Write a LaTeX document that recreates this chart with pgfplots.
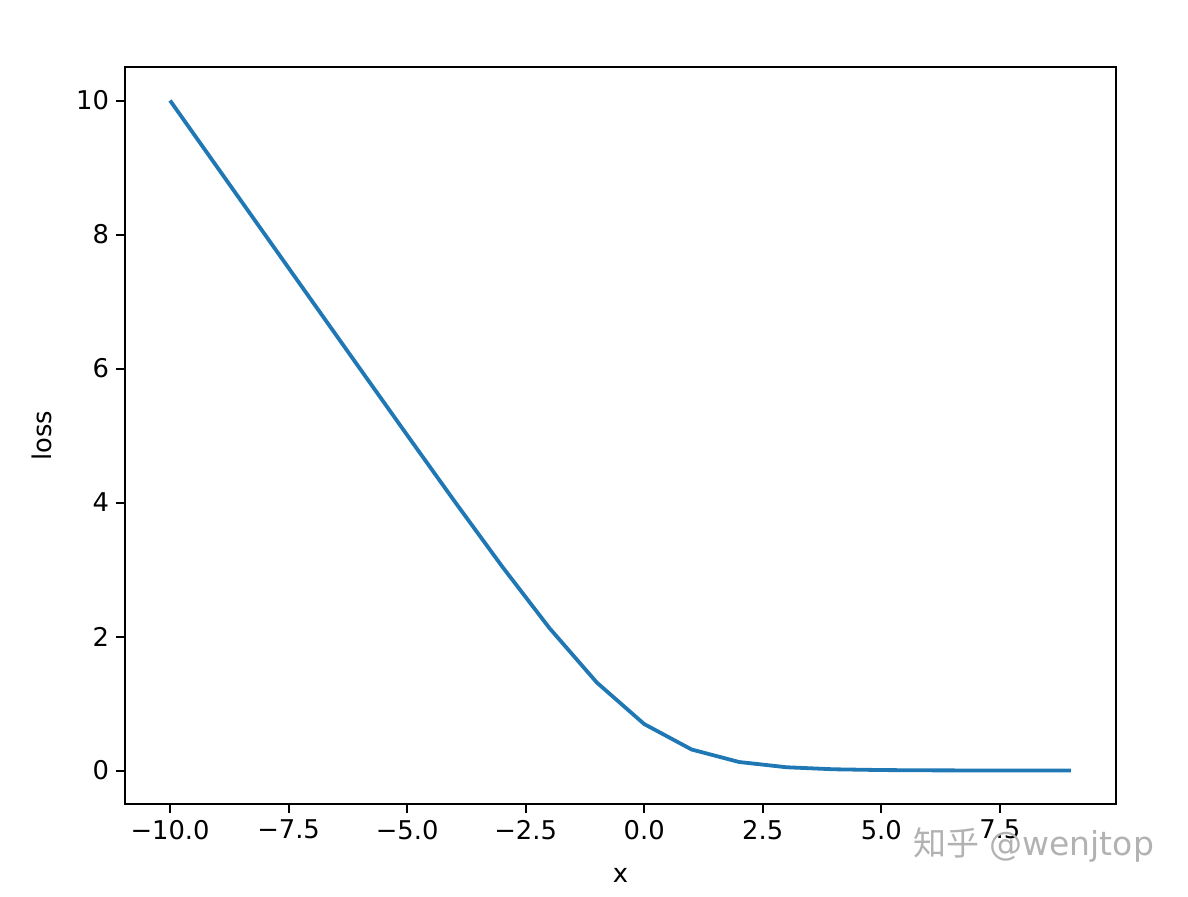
\documentclass[border=0pt]{standalone}
\usepackage{fontspec}
\setmainfont{DejaVu Sans}
\newfontfamily\cjk{Noto Sans CJK SC}
\usepackage{pgfplots}
\pgfplotsset{compat=1.18}
\definecolor{mplblue}{HTML}{1F77B4}

\begin{document}
% 1 px of the 1188x896 reference = 0.5pt
\begin{tikzpicture}
\path[use as bounding box] (0pt,0pt) rectangle (594pt,448pt);
\begin{axis}[
    at={(62.5pt,46pt)}, anchor=south west,
    scale only axis,
    width=495.5pt, height=368.5pt,
    xmin=-10.95, xmax=9.95,
    ymin=-0.5, ymax=10.5,
    xtick={-10,-7.5,-5,-2.5,0,2.5,5,7.5},
    xticklabels={−10.0,−7.5,−5.0,−2.5,0.0,2.5,5.0,7.5},
    ytick={0,2,4,6,8,10},
    yticklabels={0,2,4,6,8,10},
    tick align=outside,
    major tick length=4.5pt,
    tick style={black, line width=1pt},
    xtick pos=bottom, ytick pos=left,
    axis line style={black, line width=1pt},
    every tick label/.append style={font=\fontsize{12.9}{15}\selectfont, text=black},
    xlabel={x}, ylabel={loss},
    label style={font=\fontsize{12.9}{15}\selectfont},
    xlabel style={at={(axis description cs:0.5,-0.0963)}, anchor=center},
    ylabel style={at={(axis description cs:-0.0838,0.5)}, anchor=center},
    /pgf/number format/assume math mode=true,
]
\addplot[mplblue, line width=1.9pt, mark=none] table {
x y
-10 10.0000454
-9 9.0001234
-8 8.000335
-7 7.000911
-6 6.00248
-5 5.00672
-4 4.01815
-3 3.04859
-2 2.12693
-1 1.31326
0 0.693147
1 0.313262
2 0.126928
3 0.048587
4 0.018150
5 0.006715
6 0.002476
7 0.000911
8 0.000335
9 0.000123
};
\end{axis}
\node[anchor=west, text=gray!60, font=\fontsize{16.5}{18}\selectfont] at (453pt,25.5pt) {{\cjk 知乎} @wenjtop};
\end{tikzpicture}
\end{document}
